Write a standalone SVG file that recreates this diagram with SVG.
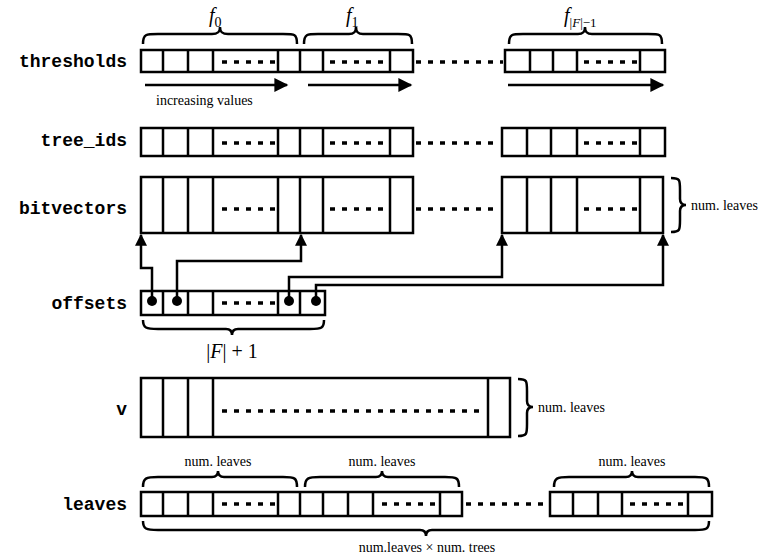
<svg xmlns="http://www.w3.org/2000/svg" width="780" height="556" viewBox="0 0 780 556">
<style>
.c{fill:#fff;stroke:#000;stroke-width:2.5}
.l{stroke:#000;stroke-width:2.5;fill:none}
.d{stroke:#000;stroke-width:3.5;stroke-dasharray:5 7;fill:none}
.b{stroke:#000;stroke-width:2.5;fill:none}
.lab{font-family:"Liberation Mono",monospace;font-weight:bold;font-size:18px;text-anchor:end}
.m{font-family:"Liberation Serif",serif;font-size:14px}
.mi{font-family:"Liberation Serif",serif;font-size:20px}
</style>
<defs>
<marker id="ah" viewBox="0 0 10 10" markerWidth="18" markerHeight="14" refX="9" refY="5" orient="auto" markerUnits="userSpaceOnUse"><path d="M0,0L10,5L0,10Z"/></marker>
<marker id="au" viewBox="0 0 10 10" markerWidth="14" markerHeight="12" refX="9" refY="5" orient="auto" markerUnits="userSpaceOnUse"><path d="M0,0L10,5L0,10Z"/></marker>
</defs>
<g id="thresholds">
<text class="lab" x="127" y="67">thresholds</text>
<rect class="c" x="141" y="50" width="272" height="22"/>
<path class="l" d="M163 50V72M188 50V72M213 50V72M278 50V72M300 50V72M323 50V72M390 50V72"/>
<path class="d" d="M222 62H275M330 62H385"/>
<rect class="c" x="505" y="50" width="160" height="22"/>
<path class="l" d="M530 50V72M553 50V72M577 50V72M640 50V72"/>
<path class="d" d="M584 62H637"/>
<path class="d" d="M416 62H503"/>
<path class="b" d="M143 44C143 34 146 34 158 34H212C218 34 220 32 220 27C220 32 222 34 228 34H283C295 34 297 34 297 44"/>
<path class="b" d="M304 44C304 34 307 34 318 34H349C354 34 356 32 356 27C356 32 358 34 363 34H398C410 34 412 34 412 44"/>
<path class="b" d="M509 44C509 34 512 34 523 34H578C583 34 585 32 585 27C585 32 587 34 592 34H648C660 34 662 34 662 44"/>
<text class="mi" x="209" y="22"><tspan font-style="italic">f</tspan><tspan font-size="14" dy="5">0</tspan></text>
<text class="mi" x="346" y="22"><tspan font-style="italic">f</tspan><tspan font-size="14" dy="5">1</tspan></text>
<text class="mi" x="564" y="22"><tspan font-style="italic">f</tspan><tspan font-size="13" dy="5">|<tspan font-style="italic">F</tspan>|−1</tspan></text>
<path class="l" marker-end="url(#ah)" d="M145 85H287"/>
<path class="l" marker-end="url(#ah)" d="M308 85H411"/>
<path class="l" marker-end="url(#ah)" d="M508 85H663"/>
<text class="m" x="156" y="105" font-size="15">increasing values</text>
</g>
<g id="tree_ids">
<text class="lab" x="127" y="146">tree_ids</text>
<rect class="c" x="141" y="128" width="272" height="28"/>
<path class="l" d="M163 128V156M188 128V156M213 128V156M278 128V156M300 128V156M323 128V156M390 128V156"/>
<path class="d" d="M222 143H275M330 143H385"/>
<rect class="c" x="502" y="128" width="163" height="28"/>
<path class="l" d="M527 128V156M551 128V156M577 128V156M640 128V156"/>
<path class="d" d="M584 143H637M416 143H500"/>
</g>
<g id="bitvectors">
<text class="lab" x="127" y="214">bitvectors</text>
<rect class="c" x="141" y="177" width="272" height="56"/>
<path class="l" d="M163 177V233M188 177V233M213 177V233M278 177V233M300 177V233M323 177V233M390 177V233"/>
<path class="d" d="M222 209H275M330 209H385"/>
<rect class="c" x="502" y="177" width="161" height="56"/>
<path class="l" d="M527 177V233M551 177V233M577 177V233M640 177V233"/>
<path class="d" d="M584 209H637M416 209H500"/>
<path class="b" d="M671 178C680 178 680 180 680 190V199C680 203 682 205 686 205C682 205 680 207 680 211V220C680 230 680 232 671 232"/>
<text class="m" x="691" y="210" font-size="12">num. leaves</text>
</g>
<g id="offsets">
<text class="lab" x="127" y="309">offsets</text>
<rect class="c" x="141" y="291" width="184" height="24"/>
<path class="l" d="M163 291V315M188 291V315M213 291V315M278 291V315M300 291V315"/>
<path class="d" d="M222 303H275"/>
<path class="b" d="M143 320C143 328 146 329 158 329H226C230 329 232 331 232 335C232 331 234 329 238 329H310C322 329 324 328 324 320"/>
<text class="mi" x="232" y="358" text-anchor="middle">|<tspan font-style="italic">F</tspan>| + 1</text>
</g>
<g id="v">
<text class="lab" x="127" y="415">v</text>
<rect class="c" x="141" y="378" width="369" height="59"/>
<path class="l" d="M163 378V437M188 378V437M213 378V437M488 378V437"/>
<path class="d" d="M222 411H484"/>
<path class="b" d="M518 379C527 379 527 381 527 391V401C527 405 529 407 533 407C529 407 527 409 527 413V424C527 434 527 436 518 436"/>
<text class="m" x="538" y="412" font-size="12">num. leaves</text>
</g>
<g id="leaves">
<text class="lab" x="127" y="510">leaves</text>
<rect class="c" x="141" y="492" width="321" height="24"/>
<path class="l" d="M163 492V516M188 492V516M213 492V516M278 492V516M300 492V516M323 492V516M348 492V516M373 492V516M440 492V516"/>
<path class="d" d="M222 504H275M382 504H437"/>
<rect class="c" x="550" y="492" width="162" height="24"/>
<path class="l" d="M573 492V516M598 492V516M622 492V516M688 492V516"/>
<path class="d" d="M630 504H685M466 504H548"/>
<path class="b" d="M143 487C143 478 146 477 158 477H212C216 477 218 475 218 471C218 475 220 477 224 477H283C295 477 297 478 297 487"/>
<path class="b" d="M305 487C305 478 308 477 320 477H376C380 477 382 475 382 471C382 475 384 477 388 477H445C457 477 459 478 459 487"/>
<path class="b" d="M554 487C554 478 557 477 569 477H626C630 477 632 475 632 471C632 475 634 477 638 477H695C707 477 709 478 709 487"/>
<text class="m" x="218" y="466" text-anchor="middle">num. leaves</text>
<text class="m" x="382" y="466" text-anchor="middle">num. leaves</text>
<text class="m" x="632" y="466" text-anchor="middle">num. leaves</text>
<path class="b" d="M143 521C143 529 146 530 158 530H420C424 530 426 532 426 536C426 532 428 530 432 530H695C707 530 709 529 709 521"/>
<text class="m" x="427" y="552" text-anchor="middle">num.leaves × num. trees</text>
</g>
<g id="connectors">
<g fill="#000"><circle cx="152" cy="301" r="5"/><circle cx="177" cy="301" r="5"/><circle cx="289" cy="301" r="5"/><circle cx="316" cy="301" r="5"/></g>
<path class="l" marker-end="url(#au)" d="M152 301V268H141V235"/>
<path class="l" marker-end="url(#au)" d="M177 301V261H301V235"/>
<path class="l" marker-end="url(#au)" d="M289 301V277H502V235"/>
<path class="l" marker-end="url(#au)" d="M316 301V285H663V235"/>
</g>
</svg>
